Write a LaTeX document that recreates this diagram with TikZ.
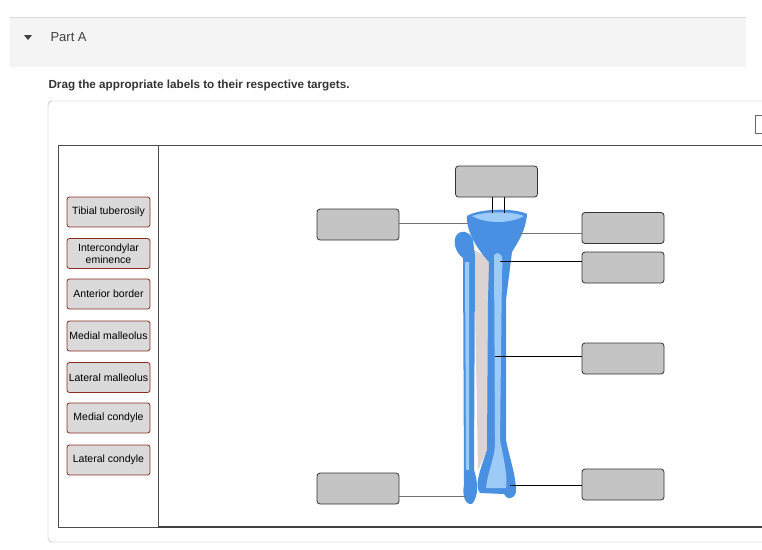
\documentclass[tikz,border=0pt]{standalone}
\usepackage{fontspec}
\setmainfont{Liberation Sans}
\usetikzlibrary{positioning}
\definecolor{bandgray}{HTML}{F4F4F4}
\definecolor{tgtgray}{HTML}{C4C4C4}
\definecolor{lblgray}{HTML}{DADADA}
\definecolor{lbledge}{HTML}{8B2A20}
\definecolor{boneblue}{HTML}{4A90E2}
\definecolor{bonelight}{HTML}{9CCBF7}
\definecolor{membrane}{HTML}{DDD3D3}
\tikzset{
  label box/.style={draw=lbledge, fill=lblgray, rounded corners=2.5pt, minimum width=83pt,
    minimum height=30pt, align=center, font=\fontsize{10.5}{12}\selectfont, line width=0.8pt, inner sep=1pt},
  target/.style={draw=black!80, fill=tgtgray, rounded corners=3pt, minimum width=82pt,
    minimum height=31pt, line width=0.8pt},
  leader/.style={line width=0.7pt, draw=black!55},
  leader dark/.style={line width=1pt, draw=black}
}
\begin{document}
\begin{tikzpicture}[x=1pt, y=-1pt]
\useasboundingbox (0,0) rectangle (762,549);
% header
\fill[bandgray] (10,18) rectangle (746,67);
\draw[black!15] (10,17.5) -- (746,17.5);
\fill[black!75] (24,35) -- (32,35) -- (28,40) -- cycle;
\node[anchor=west, font=\fontsize{13}{14}\selectfont, text=black!75] (part) at (47,37) {Part A};
\node[anchor=west, font=\bfseries\fontsize{11.7}{13}\selectfont, text=black!80] (task) at (45,85) {Drag the appropriate labels to their respective targets.};
% frames
\draw[black!35, rounded corners=4pt] (768,542) -- (48,542) -- (48,101) -- (768,101);
\draw[black!60] (755,115) rectangle (766,133);
\draw[black!70] (762,145) -- (58,145) -- (58,527) -- (158,527);
\draw[black!70] (158,145) -- (158,527);
\draw[black!75, line width=2pt] (158,526.5) -- (762,526.5);
% labels
\node[label box] (tub) at (108.5,212) {Tibial tuberosily};
\node[label box] (inter) at (108.5,253.5) {Intercondylar\\eminence};
\node[label box] (ant) at (108.5,294) {Anterior border};
\node[label box] (medm) at (108.5,336) {Medial malleolus};
\node[label box] (latm) at (108.5,377.5) {Lateral malleolus};
\node[label box] (medc) at (108.5,418) {Medial condyle};
\node[label box] (latc) at (108.5,460) {Lateral condyle};
% membrane
\fill[membrane] (474,250) -- (490,258) -- (492,440) -- (478,470) -- cycle;
% fibula
\fill[boneblue] (456,236) .. controls (460,229) and (470,231) .. (473,240)
  -- (475,256) -- (474,470) .. controls (478,482) and (479,496) .. (472,504)
  .. controls (465,505) and (462,496) .. (464,484) -- (463,258)
  .. controls (455,252) and (453,242) .. (456,236) -- cycle;
\fill[bonelight] (465,262) -- (469,262) -- (469,470) -- (466,470) -- cycle;
% tibia
\fill[boneblue] (467,216) .. controls (480,208) and (515,208) .. (527,214)
  .. controls (526,230) and (518,242) .. (512,252) -- (506,300) -- (506,440)
  .. controls (510,460) and (516,475) .. (516,492) .. controls (514,500) and (506,500) .. (504,494)
  -- (480,493) .. controls (474,486) and (480,470) .. (487,450) -- (488,300) -- (489,262)
  .. controls (478,250) and (466,232) .. (467,216) -- cycle;
\fill[bonelight] (494,255) .. controls (500,250) and (504,255) .. (502,270) -- (500,440)
  .. controls (504,460) and (508,478) .. (506,488) -- (486,488) .. controls (488,470) and (496,455) .. (495,440) -- cycle;
\fill[bonelight] (472,216) .. controls (488,211) and (510,211) .. (524,216) .. controls (510,224) and (486,224) .. (472,216) -- cycle;
% targets
\node[target] (top) at (496.5,181.5) {};
\node[target] (lt1) at (358,224.5) {};
\node[target] (rt1) at (623,228) {};
\node[target] (rt2) at (623,267.5) {};
\node[target] (rt3) at (623,358.5) {};
\node[target] (lt2) at (358,488.5) {};
\node[target] (rt4) at (623,484.5) {};
% leader points
\coordinate (pa) at (492,213);
\coordinate (pb) at (504,213);
\coordinate (pc) at (468,223);
\coordinate (pd) at (520,233);
\coordinate (pe) at (500,261);
\coordinate (pf) at (495,356);
\coordinate (pg) at (466,496);
\coordinate (ph) at (510,485);
\draw[leader dark] (top.south -| pa) -- (pa);
\draw[leader dark] (top.south -| pb) -- (pb);
\draw[leader] (lt1.east |- pc) -- (pc);
\draw[leader] (rt1.west |- pd) -- (pd);
\draw[leader dark] (rt2.west |- pe) -- (pe);
\draw[leader dark] (rt3.west |- pf) -- (pf);
\draw[leader] (lt2.east |- pg) -- (pg);
\draw[leader dark] (rt4.west |- ph) -- (ph);
\end{tikzpicture}
\end{document}
